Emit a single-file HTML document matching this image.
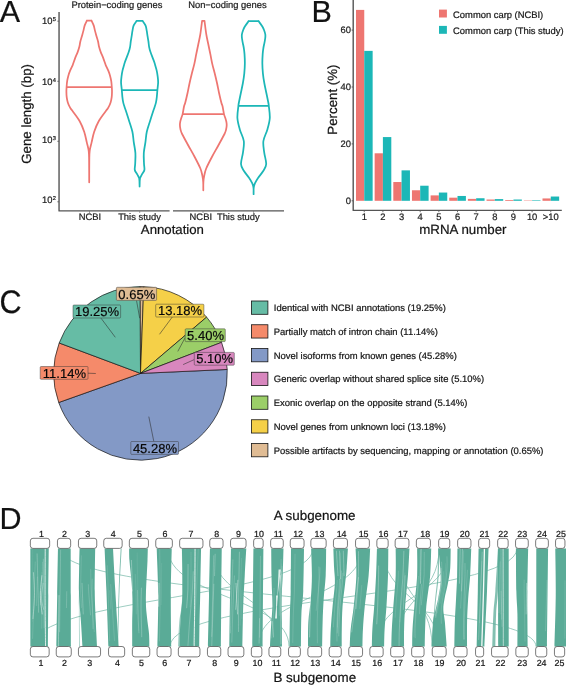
<!DOCTYPE html>
<html lang="en"><head><meta charset="utf-8"><title>Figure</title>
<style>
html,body{margin:0;padding:0;background:#fff;}
body{width:566px;height:685px;overflow:hidden;}
svg{display:block;font-family:"Liberation Sans", Arial, sans-serif;text-rendering:geometricPrecision;}
text{stroke:#222;stroke-width:0.22px;}
</style></head><body>
<svg width="566" height="685" viewBox="0 0 566 685">
<rect width="566" height="685" fill="#fff"/>
<g id="panelA">
<path d="M86.90 20.70 C86.52 21.52 85.23 23.90 84.64 25.60 C84.05 27.30 83.83 29.13 83.37 30.90 C82.91 32.67 82.40 34.43 81.90 36.20 C81.40 37.97 80.78 39.73 80.35 41.50 C79.92 43.27 79.79 45.03 79.34 46.80 C78.89 48.57 78.31 50.33 77.65 52.10 C76.99 53.87 76.09 55.63 75.40 57.40 C74.71 59.17 73.97 61.38 73.50 62.70 C73.03 64.02 73.17 63.98 72.60 65.30 C72.03 66.62 70.82 68.83 70.10 70.60 C69.38 72.37 68.79 74.13 68.30 75.90 C67.81 77.67 67.43 79.35 67.15 81.20 C66.87 83.05 66.72 85.23 66.60 87.00 C66.47 88.77 66.38 90.12 66.40 91.80 C66.42 93.48 66.47 95.33 66.70 97.10 C66.93 98.87 67.23 100.63 67.80 102.40 C68.37 104.17 69.37 106.33 70.10 107.70 C70.83 109.07 70.60 108.35 72.20 110.60 C73.80 112.85 77.70 117.67 79.70 121.20 C81.70 124.73 83.02 128.27 84.20 131.80 C85.38 135.33 86.05 139.22 86.80 142.40 C87.55 145.58 88.32 147.97 88.70 150.90 C89.08 153.83 89.02 154.77 89.10 160.00 C89.18 165.23 89.18 178.58 89.20 182.30 M91.50 20.70 C91.88 21.52 93.17 23.90 93.76 25.60 C94.35 27.30 94.57 29.13 95.03 30.90 C95.49 32.67 96.00 34.43 96.50 36.20 C97.00 37.97 97.62 39.73 98.05 41.50 C98.48 43.27 98.61 45.03 99.06 46.80 C99.51 48.57 100.09 50.33 100.75 52.10 C101.41 53.87 102.31 55.63 103.00 57.40 C103.69 59.17 104.43 61.38 104.90 62.70 C105.37 64.02 105.23 63.98 105.80 65.30 C106.37 66.62 107.58 68.83 108.30 70.60 C109.02 72.37 109.61 74.13 110.10 75.90 C110.59 77.67 110.97 79.35 111.25 81.20 C111.53 83.05 111.68 85.23 111.80 87.00 C111.93 88.77 112.02 90.12 112.00 91.80 C111.98 93.48 111.93 95.33 111.70 97.10 C111.47 98.87 111.17 100.63 110.60 102.40 C110.03 104.17 109.03 106.33 108.30 107.70 C107.57 109.07 107.80 108.35 106.20 110.60 C104.60 112.85 100.70 117.67 98.70 121.20 C96.70 124.73 95.38 128.27 94.20 131.80 C93.02 135.33 92.35 139.22 91.60 142.40 C90.85 145.58 90.08 147.97 89.70 150.90 C89.32 153.83 89.38 154.77 89.30 160.00 C89.22 165.23 89.22 178.58 89.20 182.30 M86.90 20.70 L91.50 20.70" fill="none" stroke="#EE7671" stroke-width="1.75" stroke-linejoin="round" stroke-linecap="round"/>
<line x1="66.60" y1="87.00" x2="111.80" y2="87.00" stroke="#EE7671" stroke-width="1.75"/>
<path d="M136.70 20.80 C136.18 21.60 134.31 23.92 133.60 25.60 C132.89 27.28 132.77 29.13 132.45 30.90 C132.12 32.67 131.93 34.43 131.65 36.20 C131.37 37.97 131.01 39.73 130.75 41.50 C130.49 43.27 130.44 45.03 130.10 46.80 C129.76 48.57 129.27 50.33 128.70 52.10 C128.13 53.87 127.37 55.63 126.70 57.40 C126.03 59.17 125.15 61.38 124.70 62.70 C124.25 64.02 124.37 63.98 124.00 65.30 C123.63 66.62 122.90 68.83 122.50 70.60 C122.10 72.37 121.84 73.95 121.60 75.90 C121.36 77.85 121.02 79.95 121.05 82.30 C121.08 84.65 121.58 87.53 121.80 90.00 C122.02 92.47 122.17 95.03 122.40 97.10 C122.63 99.17 122.80 100.63 123.20 102.40 C123.60 104.17 124.37 106.33 124.80 107.70 C125.23 109.07 125.07 108.35 125.80 110.60 C126.53 112.85 128.10 117.67 129.20 121.20 C130.30 124.73 131.63 128.27 132.40 131.80 C133.17 135.33 133.30 138.87 133.80 142.40 C134.30 145.93 135.17 149.47 135.40 153.00 C135.63 156.53 135.30 160.77 135.20 163.60 C135.10 166.43 134.48 168.23 134.80 170.00 C135.12 171.77 136.37 172.80 137.10 174.20 C137.83 175.60 138.78 176.35 139.20 178.40 C139.62 180.45 139.53 185.15 139.60 186.50 M142.50 20.80 C143.02 21.60 144.89 23.92 145.60 25.60 C146.31 27.28 146.43 29.13 146.75 30.90 C147.07 32.67 147.27 34.43 147.55 36.20 C147.83 37.97 148.19 39.73 148.45 41.50 C148.71 43.27 148.76 45.03 149.10 46.80 C149.44 48.57 149.93 50.33 150.50 52.10 C151.07 53.87 151.83 55.63 152.50 57.40 C153.17 59.17 154.05 61.38 154.50 62.70 C154.95 64.02 154.83 63.98 155.20 65.30 C155.57 66.62 156.30 68.83 156.70 70.60 C157.10 72.37 157.36 73.95 157.60 75.90 C157.84 77.85 158.18 79.95 158.15 82.30 C158.12 84.65 157.62 87.53 157.40 90.00 C157.18 92.47 157.03 95.03 156.80 97.10 C156.57 99.17 156.40 100.63 156.00 102.40 C155.60 104.17 154.83 106.33 154.40 107.70 C153.97 109.07 154.13 108.35 153.40 110.60 C152.67 112.85 151.10 117.67 150.00 121.20 C148.90 124.73 147.57 128.27 146.80 131.80 C146.03 135.33 145.90 138.87 145.40 142.40 C144.90 145.93 144.03 149.47 143.80 153.00 C143.57 156.53 143.90 160.77 144.00 163.60 C144.10 166.43 144.72 168.23 144.40 170.00 C144.08 171.77 142.83 172.80 142.10 174.20 C141.37 175.60 140.42 176.35 140.00 178.40 C139.58 180.45 139.67 185.15 139.60 186.50 M136.70 20.80 L142.50 20.80" fill="none" stroke="#1CB7B7" stroke-width="1.75" stroke-linejoin="round" stroke-linecap="round"/>
<line x1="121.80" y1="90.00" x2="157.40" y2="90.00" stroke="#1CB7B7" stroke-width="1.75"/>
<path d="M202.10 20.80 C201.80 23.07 200.93 30.50 200.30 34.40 C199.67 38.30 198.97 40.95 198.30 44.20 C197.63 47.45 196.95 50.67 196.30 53.90 C195.65 57.13 195.13 60.37 194.40 63.60 C193.67 66.83 192.70 70.07 191.90 73.30 C191.10 76.53 190.32 79.77 189.60 83.00 C188.88 86.23 188.32 89.45 187.60 92.70 C186.88 95.95 185.90 100.20 185.30 102.50 C184.70 104.80 184.45 104.57 184.00 106.50 C183.55 108.43 183.05 112.18 182.60 114.10 C182.15 116.02 181.68 116.77 181.30 118.00 C180.92 119.23 180.53 120.35 180.30 121.50 C180.07 122.65 179.87 123.57 179.90 124.90 C179.93 126.23 180.13 127.98 180.50 129.50 C180.87 131.02 180.80 131.33 182.10 134.00 C183.40 136.67 186.20 141.67 188.30 145.50 C190.40 149.33 192.68 153.17 194.70 157.00 C196.72 160.83 199.13 165.43 200.40 168.50 C201.67 171.57 201.83 173.15 202.30 175.40 C202.77 177.65 203.03 179.52 203.20 182.00 C203.37 184.48 203.28 188.92 203.30 190.30 M204.50 20.80 C204.80 23.07 205.67 30.50 206.30 34.40 C206.93 38.30 207.63 40.95 208.30 44.20 C208.97 47.45 209.65 50.67 210.30 53.90 C210.95 57.13 211.47 60.37 212.20 63.60 C212.93 66.83 213.90 70.07 214.70 73.30 C215.50 76.53 216.28 79.77 217.00 83.00 C217.72 86.23 218.28 89.45 219.00 92.70 C219.72 95.95 220.70 100.20 221.30 102.50 C221.90 104.80 222.15 104.57 222.60 106.50 C223.05 108.43 223.55 112.18 224.00 114.10 C224.45 116.02 224.92 116.77 225.30 118.00 C225.68 119.23 226.07 120.35 226.30 121.50 C226.53 122.65 226.73 123.57 226.70 124.90 C226.67 126.23 226.47 127.98 226.10 129.50 C225.73 131.02 225.80 131.33 224.50 134.00 C223.20 136.67 220.40 141.67 218.30 145.50 C216.20 149.33 213.92 153.17 211.90 157.00 C209.88 160.83 207.47 165.43 206.20 168.50 C204.93 171.57 204.77 173.15 204.30 175.40 C203.83 177.65 203.57 179.52 203.40 182.00 C203.23 184.48 203.32 188.92 203.30 190.30 M202.10 20.80 L204.50 20.80" fill="none" stroke="#EE7671" stroke-width="1.75" stroke-linejoin="round" stroke-linecap="round"/>
<line x1="182.60" y1="114.10" x2="224.00" y2="114.10" stroke="#EE7671" stroke-width="1.75"/>
<path d="M248.70 21.10 C248.03 22.03 245.65 25.13 244.70 26.70 C243.75 28.27 243.47 29.22 243.00 30.50 C242.53 31.78 242.08 33.23 241.90 34.40 C241.72 35.57 241.83 36.52 241.90 37.50 C241.97 38.48 242.12 39.22 242.30 40.30 C242.48 41.38 242.75 42.72 243.00 44.00 C243.25 45.28 243.55 46.35 243.80 48.00 C244.05 49.65 244.32 51.30 244.50 53.90 C244.68 56.50 244.88 60.37 244.85 63.60 C244.82 66.83 244.62 70.07 244.30 73.30 C243.97 76.53 243.47 79.77 242.90 83.00 C242.33 86.23 241.57 89.45 240.90 92.70 C240.23 95.95 239.32 100.30 238.90 102.50 C238.48 104.70 238.65 103.32 238.40 105.90 C238.15 108.48 237.17 114.07 237.40 118.00 C237.63 121.93 238.73 125.67 239.80 129.50 C240.87 133.33 243.27 137.18 243.80 141.00 C244.33 144.82 243.47 148.57 243.00 152.40 C242.53 156.23 240.87 160.93 241.00 164.00 C241.13 167.07 242.47 168.52 243.80 170.80 C245.13 173.08 247.58 175.60 249.00 177.70 C250.42 179.80 251.55 181.68 252.30 183.40 C253.05 185.12 253.28 186.20 253.50 188.00 C253.72 189.80 253.58 193.17 253.60 194.20 M258.50 21.10 C259.17 22.03 261.55 25.13 262.50 26.70 C263.45 28.27 263.73 29.22 264.20 30.50 C264.67 31.78 265.12 33.23 265.30 34.40 C265.48 35.57 265.37 36.52 265.30 37.50 C265.23 38.48 265.08 39.22 264.90 40.30 C264.72 41.38 264.45 42.72 264.20 44.00 C263.95 45.28 263.65 46.35 263.40 48.00 C263.15 49.65 262.88 51.30 262.70 53.90 C262.52 56.50 262.32 60.37 262.35 63.60 C262.38 66.83 262.57 70.07 262.90 73.30 C263.22 76.53 263.73 79.77 264.30 83.00 C264.87 86.23 265.63 89.45 266.30 92.70 C266.97 95.95 267.88 100.30 268.30 102.50 C268.72 104.70 268.55 103.32 268.80 105.90 C269.05 108.48 270.03 114.07 269.80 118.00 C269.57 121.93 268.47 125.67 267.40 129.50 C266.33 133.33 263.93 137.18 263.40 141.00 C262.87 144.82 263.73 148.57 264.20 152.40 C264.67 156.23 266.33 160.93 266.20 164.00 C266.07 167.07 264.73 168.52 263.40 170.80 C262.07 173.08 259.62 175.60 258.20 177.70 C256.78 179.80 255.65 181.68 254.90 183.40 C254.15 185.12 253.92 186.20 253.70 188.00 C253.48 189.80 253.62 193.17 253.60 194.20 M248.70 21.10 L258.50 21.10" fill="none" stroke="#1CB7B7" stroke-width="1.75" stroke-linejoin="round" stroke-linecap="round"/>
<line x1="238.40" y1="105.90" x2="268.80" y2="105.90" stroke="#1CB7B7" stroke-width="1.75"/>
<path d="M59.05 12 V210.9 H169.6 M173 210.9 H284" fill="none" stroke="#555" stroke-width="1.4" stroke-linejoin="round"/>
<line x1="57.4" x2="58.6" y1="21.20" y2="21.20" stroke="#222" stroke-width="0.7"/>
<text x="52.4" y="23.90" font-size="9.4" text-anchor="end" fill="#222">10</text>
<text x="52.8" y="21.10" font-size="5.7" fill="#222">5</text>
<line x1="57.4" x2="58.6" y1="81.30" y2="81.30" stroke="#222" stroke-width="0.7"/>
<text x="52.4" y="84.90" font-size="9.4" text-anchor="end" fill="#222">10</text>
<text x="52.8" y="82.10" font-size="5.7" fill="#222">4</text>
<line x1="57.4" x2="58.6" y1="141.30" y2="141.30" stroke="#222" stroke-width="0.7"/>
<text x="52.4" y="143.00" font-size="9.4" text-anchor="end" fill="#222">10</text>
<text x="52.8" y="140.20" font-size="5.7" fill="#222">3</text>
<line x1="57.4" x2="58.6" y1="201.80" y2="201.80" stroke="#222" stroke-width="0.7"/>
<text x="52.4" y="202.70" font-size="9.4" text-anchor="end" fill="#222">10</text>
<text x="52.8" y="199.90" font-size="5.7" fill="#222">2</text>
<line x1="89.50" x2="89.50" y1="211.6" y2="212.6" stroke="#222" stroke-width="0.7"/>
<line x1="139.70" x2="139.70" y1="211.6" y2="212.6" stroke="#222" stroke-width="0.7"/>
<line x1="203.00" x2="203.00" y1="211.6" y2="212.6" stroke="#222" stroke-width="0.7"/>
<line x1="253.60" x2="253.60" y1="211.6" y2="212.6" stroke="#222" stroke-width="0.7"/>
<text x="90.00" y="220" font-size="9.4" text-anchor="middle" fill="#222">NCBI</text>
<text x="139.50" y="220" font-size="9.4" text-anchor="middle" fill="#222">This study</text>
<text x="200.80" y="220" font-size="9.4" text-anchor="middle" fill="#222">NCBI</text>
<text x="238.30" y="220" font-size="9.4" text-anchor="middle" fill="#222">This study</text>
<text x="116.9" y="8.4" font-size="9.4" text-anchor="middle" fill="#222">Protein−coding genes</text>
<text x="227.4" y="8.4" font-size="9.4" text-anchor="middle" fill="#222">Non−coding genes</text>
<text x="172.4" y="233.8" font-size="13.2" text-anchor="middle" fill="#111">Annotation</text>
<text transform="translate(31.3 113.9) rotate(-90)" font-size="13.3" text-anchor="middle" fill="#111">Gene length (bp)</text>
<text x="-0.25" y="22.2" font-size="30.5" fill="#111">A</text>
</g>
<g id="panelB">
<rect x="356.00" y="9.90" width="8.25" height="190.90" fill="#EE7671"/>
<rect x="364.25" y="50.87" width="8.40" height="149.93" fill="#1CB7B7"/>
<rect x="374.65" y="153.29" width="8.25" height="47.51" fill="#EE7671"/>
<rect x="382.90" y="137.07" width="8.40" height="63.73" fill="#1CB7B7"/>
<rect x="393.30" y="182.02" width="8.25" height="18.78" fill="#EE7671"/>
<rect x="401.55" y="170.36" width="8.40" height="30.44" fill="#1CB7B7"/>
<rect x="411.95" y="190.27" width="8.25" height="10.53" fill="#EE7671"/>
<rect x="420.20" y="185.72" width="8.40" height="15.08" fill="#1CB7B7"/>
<rect x="430.60" y="195.39" width="8.25" height="5.41" fill="#EE7671"/>
<rect x="438.85" y="192.55" width="8.40" height="8.25" fill="#1CB7B7"/>
<rect x="449.25" y="197.67" width="8.25" height="3.13" fill="#EE7671"/>
<rect x="457.50" y="195.96" width="8.40" height="4.84" fill="#1CB7B7"/>
<rect x="467.90" y="198.89" width="8.25" height="1.91" fill="#EE7671"/>
<rect x="476.15" y="198.24" width="8.40" height="2.56" fill="#1CB7B7"/>
<rect x="486.55" y="199.52" width="8.25" height="1.28" fill="#EE7671"/>
<rect x="494.80" y="199.09" width="8.40" height="1.71" fill="#1CB7B7"/>
<rect x="505.20" y="200.00" width="8.25" height="0.80" fill="#EE7671"/>
<rect x="513.45" y="199.52" width="8.40" height="1.28" fill="#1CB7B7"/>
<rect x="523.85" y="200.43" width="8.25" height="0.37" fill="#EE7671"/>
<rect x="532.10" y="200.23" width="8.40" height="0.57" fill="#1CB7B7"/>
<rect x="542.50" y="198.44" width="8.25" height="2.36" fill="#EE7671"/>
<rect x="550.75" y="196.53" width="8.40" height="4.27" fill="#1CB7B7"/>
<path d="M353.2 0 V210.4 H561.8" fill="none" stroke="#555" stroke-width="1.4" stroke-linejoin="round"/>
<line x1="351.6" x2="352.8" y1="200.80" y2="200.80" stroke="#222" stroke-width="0.7"/>
<text x="351" y="204.10" font-size="9.4" text-anchor="end" fill="#222">0</text>
<line x1="351.6" x2="352.8" y1="143.90" y2="143.90" stroke="#222" stroke-width="0.7"/>
<text x="351" y="147.20" font-size="9.4" text-anchor="end" fill="#222">20</text>
<line x1="351.6" x2="352.8" y1="87.00" y2="87.00" stroke="#222" stroke-width="0.7"/>
<text x="351" y="90.30" font-size="9.4" text-anchor="end" fill="#222">40</text>
<line x1="351.6" x2="352.8" y1="30.10" y2="30.10" stroke="#222" stroke-width="0.7"/>
<text x="351" y="33.40" font-size="9.4" text-anchor="end" fill="#222">60</text>
<line x1="364.25" x2="364.25" y1="211.1" y2="212.2" stroke="#222" stroke-width="0.7"/>
<text x="364.25" y="219.9" font-size="9.4" text-anchor="middle" fill="#222">1</text>
<line x1="382.90" x2="382.90" y1="211.1" y2="212.2" stroke="#222" stroke-width="0.7"/>
<text x="382.90" y="219.9" font-size="9.4" text-anchor="middle" fill="#222">2</text>
<line x1="401.55" x2="401.55" y1="211.1" y2="212.2" stroke="#222" stroke-width="0.7"/>
<text x="401.55" y="219.9" font-size="9.4" text-anchor="middle" fill="#222">3</text>
<line x1="420.20" x2="420.20" y1="211.1" y2="212.2" stroke="#222" stroke-width="0.7"/>
<text x="420.20" y="219.9" font-size="9.4" text-anchor="middle" fill="#222">4</text>
<line x1="438.85" x2="438.85" y1="211.1" y2="212.2" stroke="#222" stroke-width="0.7"/>
<text x="438.85" y="219.9" font-size="9.4" text-anchor="middle" fill="#222">5</text>
<line x1="457.50" x2="457.50" y1="211.1" y2="212.2" stroke="#222" stroke-width="0.7"/>
<text x="457.50" y="219.9" font-size="9.4" text-anchor="middle" fill="#222">6</text>
<line x1="476.15" x2="476.15" y1="211.1" y2="212.2" stroke="#222" stroke-width="0.7"/>
<text x="476.15" y="219.9" font-size="9.4" text-anchor="middle" fill="#222">7</text>
<line x1="494.80" x2="494.80" y1="211.1" y2="212.2" stroke="#222" stroke-width="0.7"/>
<text x="494.80" y="219.9" font-size="9.4" text-anchor="middle" fill="#222">8</text>
<line x1="513.45" x2="513.45" y1="211.1" y2="212.2" stroke="#222" stroke-width="0.7"/>
<text x="513.45" y="219.9" font-size="9.4" text-anchor="middle" fill="#222">9</text>
<line x1="532.10" x2="532.10" y1="211.1" y2="212.2" stroke="#222" stroke-width="0.7"/>
<text x="532.10" y="219.9" font-size="9.4" text-anchor="middle" fill="#222">10</text>
<line x1="550.75" x2="550.75" y1="211.1" y2="212.2" stroke="#222" stroke-width="0.7"/>
<text x="550.75" y="219.9" font-size="9.4" text-anchor="middle" fill="#222">&gt;10</text>
<text x="462.9" y="233.8" font-size="13.3" text-anchor="middle" fill="#111">mRNA number</text>
<text transform="translate(336.8 99.6) rotate(-90)" font-size="13.3" text-anchor="middle" fill="#111">Percent (%)</text>
<rect x="439" y="9.6" width="7.9" height="7.9" fill="#EE7671"/>
<rect x="439" y="25.9" width="7.9" height="7.9" fill="#1CB7B7"/>
<text x="453.1" y="17.6" font-size="9.4" fill="#111">Common carp (NCBI)</text>
<text x="453.1" y="33.8" font-size="9.4" fill="#111">Common carp (This study)</text>
<text x="311.6" y="22.2" font-size="30.5" fill="#111">B</text>
</g>
<g id="panelC">
<path d="M140.50 373.40 L227.21 369.46 A86.80 86.80 0 0 1 58.73 402.51 Z" fill="#8399C6" stroke="#141414" stroke-width="0.7" stroke-linejoin="round"/>
<path d="M140.50 373.40 L58.73 402.51 A86.80 86.80 0 0 1 59.20 342.98 Z" fill="#F58A6A" stroke="#141414" stroke-width="0.7" stroke-linejoin="round"/>
<path d="M140.50 373.40 L59.20 342.98 A86.80 86.80 0 0 1 140.22 286.60 Z" fill="#66BCA5" stroke="#141414" stroke-width="0.7" stroke-linejoin="round"/>
<path d="M140.50 373.40 L140.22 286.60 A86.80 86.80 0 0 1 143.76 286.66 Z" fill="#E0BC94" stroke="#141414" stroke-width="0.7" stroke-linejoin="round"/>
<path d="M140.50 373.40 L143.76 286.66 A86.80 86.80 0 0 1 206.60 317.14 Z" fill="#F5D048" stroke="#141414" stroke-width="0.7" stroke-linejoin="round"/>
<path d="M140.50 373.40 L206.60 317.14 A86.80 86.80 0 0 1 221.56 342.35 Z" fill="#9BCE68" stroke="#141414" stroke-width="0.7" stroke-linejoin="round"/>
<path d="M140.50 373.40 L221.56 342.35 A86.80 86.80 0 0 1 227.21 369.46 Z" fill="#D887BE" stroke="#141414" stroke-width="0.7" stroke-linejoin="round"/>
<line x1="101.00" y1="318.20" x2="115.30" y2="337.30" stroke="#2a2a2a" stroke-width="0.55"/>
<line x1="172.30" y1="317.00" x2="159.50" y2="334.30" stroke="#2a2a2a" stroke-width="0.55"/>
<line x1="185.30" y1="337.40" x2="177.80" y2="351.40" stroke="#2a2a2a" stroke-width="0.55"/>
<line x1="194.20" y1="359.60" x2="183.10" y2="364.60" stroke="#2a2a2a" stroke-width="0.55"/>
<line x1="88.00" y1="373.20" x2="95.80" y2="373.50" stroke="#2a2a2a" stroke-width="0.55"/>
<line x1="153.80" y1="441.40" x2="148.80" y2="416.60" stroke="#2a2a2a" stroke-width="0.55"/>
<line x1="136.50" y1="300.40" x2="139.70" y2="318.20" stroke="#2a2a2a" stroke-width="0.55"/>
<rect x="116.40" y="287.30" width="40.20" height="13.10" rx="0.9" fill="#E0BC94" stroke="#333" stroke-width="0.45"/>
<text x="136.80" y="298.50" font-size="13" text-anchor="middle" fill="#000" stroke-width="0.08">0.65%</text>
<rect x="73.00" y="305.00" width="47.60" height="13.00" rx="0.9" fill="#66BCA5" stroke="#333" stroke-width="0.45"/>
<text x="97.10" y="316.15" font-size="13" text-anchor="middle" fill="#000" stroke-width="0.08">19.25%</text>
<rect x="40.20" y="366.50" width="47.80" height="12.80" rx="0.9" fill="#F58A6A" stroke="#333" stroke-width="0.45"/>
<text x="64.40" y="377.55" font-size="13" text-anchor="middle" fill="#000" stroke-width="0.08">11.14%</text>
<rect x="155.70" y="304.20" width="48.20" height="12.80" rx="0.9" fill="#F5D048" stroke="#333" stroke-width="0.45"/>
<text x="180.10" y="315.25" font-size="13" text-anchor="middle" fill="#000" stroke-width="0.08">13.18%</text>
<rect x="185.20" y="328.80" width="40.10" height="12.80" rx="0.9" fill="#9BCE68" stroke="#333" stroke-width="0.45"/>
<text x="205.55" y="339.85" font-size="13" text-anchor="middle" fill="#000" stroke-width="0.08">5.40%</text>
<rect x="194.30" y="352.40" width="40.00" height="12.80" rx="0.9" fill="#D887BE" stroke="#333" stroke-width="0.45"/>
<text x="214.60" y="363.45" font-size="13" text-anchor="middle" fill="#000" stroke-width="0.08">5.10%</text>
<rect x="130.80" y="441.50" width="47.70" height="12.90" rx="0.9" fill="#8399C6" stroke="#333" stroke-width="0.45"/>
<text x="154.95" y="452.60" font-size="13" text-anchor="middle" fill="#000" stroke-width="0.08">45.28%</text>
<rect x="251.4" y="301.00" width="16.5" height="13.3" fill="#66BCA5" stroke="#151515" stroke-width="0.8"/>
<text x="273.8" y="311.10" font-size="9.45" fill="#111">Identical with NCBI annotations (19.25%)</text>
<rect x="251.4" y="324.75" width="16.5" height="13.3" fill="#F58A6A" stroke="#151515" stroke-width="0.8"/>
<text x="273.8" y="334.85" font-size="9.45" fill="#111">Partially match of intron chain (11.14%)</text>
<rect x="251.4" y="348.50" width="16.5" height="13.3" fill="#8399C6" stroke="#151515" stroke-width="0.8"/>
<text x="273.8" y="358.60" font-size="9.45" fill="#111">Novel isoforms from known genes (45.28%)</text>
<rect x="251.4" y="372.25" width="16.5" height="13.3" fill="#D887BE" stroke="#151515" stroke-width="0.8"/>
<text x="273.8" y="382.35" font-size="9.45" fill="#111">Generic overlap without shared splice site (5.10%)</text>
<rect x="251.4" y="396.00" width="16.5" height="13.3" fill="#9BCE68" stroke="#151515" stroke-width="0.8"/>
<text x="273.8" y="406.10" font-size="9.45" fill="#111">Exonic overlap on the opposite strand (5.14%)</text>
<rect x="251.4" y="419.75" width="16.5" height="13.3" fill="#F5D048" stroke="#151515" stroke-width="0.8"/>
<text x="273.8" y="429.85" font-size="9.45" fill="#111">Novel genes from unknown loci (13.18%)</text>
<rect x="251.4" y="443.50" width="16.5" height="13.3" fill="#E0BC94" stroke="#151515" stroke-width="0.8"/>
<text x="273.8" y="453.60" font-size="9.45" fill="#111">Possible artifacts by sequencing, mapping or annotation (0.65%)</text>
<text transform="translate(-0.4 312.6) scale(1 1.064)" font-size="30.5" fill="#111">C</text>
</g>
<g id="panelD">
<g fill="none" stroke="#5AAB97" stroke-width="0.7" opacity="0.85">
<path d="M60.0 548.4 C60.0 597.5 536.0 597.5 536.0 646.5"/>
<path d="M313.0 548.4 C313.0 597.5 32.0 597.5 32.0 646.5"/>
<path d="M168.0 548.4 C168.0 597.5 289.0 597.5 289.0 646.5"/>
<path d="M517.0 548.4 C517.0 597.5 170.0 597.5 170.0 646.5"/>
<path d="M362.0 548.4 C362.0 597.5 258.0 597.5 258.0 646.5"/>
<path d="M212.0 548.4 C212.0 597.5 280.0 597.5 280.0 646.5"/>
<path d="M439.0 548.4 C439.0 597.5 395.0 597.5 395.0 646.5"/>
<path d="M397.0 548.4 C397.0 597.5 432.0 597.5 432.0 646.5"/>
<path d="M383.0 548.4 C383.0 597.5 438.0 597.5 438.0 646.5"/>
<path d="M449.0 548.4 C449.0 597.5 376.0 597.5 376.0 646.5"/>
</g>
<g fill="#5AAB97">
<path d="M30.36 548.40 C30.36 556.26 30.36 579.24 30.36 595.58 C30.36 611.93 30.36 637.99 30.36 646.47 L47.99 646.47 C48.04 637.99 48.17 611.93 48.30 595.58 C48.43 579.24 48.68 556.26 48.76 548.40 Z"/>
<path d="M57.96 548.40 C57.83 556.26 57.44 579.24 57.19 595.58 C56.93 611.93 56.55 637.99 56.42 646.47 L70.98 646.47 C70.96 637.99 70.88 611.93 70.83 595.58 C70.78 579.24 70.70 556.26 70.68 548.40 Z"/>
<path d="M79.87 548.40 C79.72 555.50 78.78 578.78 78.95 590.98 C79.13 603.19 80.36 612.39 80.95 621.64 C81.53 630.89 82.22 642.33 82.48 646.47 L97.04 646.47 C96.84 642.33 96.20 630.89 95.82 621.64 C95.43 612.39 94.84 603.19 94.74 590.98 C94.64 578.78 95.13 555.50 95.20 548.40 Z"/>
<path d="M104.60 548.40 C104.90 555.50 105.80 574.64 106.44 590.98 C107.08 607.33 108.10 637.22 108.43 646.47 L118.70 646.47 C118.14 637.22 116.27 607.33 115.33 590.98 C114.38 574.64 113.41 555.50 113.03 548.40 Z"/>
<path d="M129.12 548.40 C129.17 550.39 129.12 555.79 129.43 560.33 C129.74 564.87 130.50 570.55 130.96 575.66 C131.42 580.77 131.93 585.87 132.19 590.98 C132.44 596.09 132.50 601.20 132.50 606.31 C132.50 611.42 132.24 617.04 132.19 621.64 C132.14 626.24 132.19 629.76 132.19 633.90 C132.19 638.04 132.19 644.38 132.19 646.47 L149.36 646.47 C149.31 644.38 149.36 638.04 149.05 633.90 C148.74 629.76 148.03 626.24 147.52 621.64 C147.01 617.04 146.24 611.42 145.98 606.31 C145.73 601.20 145.86 596.09 145.98 590.98 C146.11 585.87 146.49 580.77 146.75 575.66 C147.01 570.55 147.34 564.87 147.52 560.33 C147.70 555.79 147.77 550.39 147.82 548.40 Z"/>
<path d="M156.71 548.40 C156.97 556.26 158.12 579.24 158.25 595.58 C158.37 611.93 157.61 637.99 157.48 646.47 L171.28 646.47 C171.20 637.99 170.74 611.93 170.82 595.58 C170.89 579.24 171.58 556.26 171.74 548.40 Z"/>
<path d="M181.90 548.40 C182.03 555.50 182.92 578.78 182.66 590.98 C182.41 603.19 180.88 612.39 180.36 621.64 C179.85 630.89 179.73 642.33 179.60 646.47 L199.22 646.47 C199.27 642.33 199.35 630.89 199.52 621.64 C199.70 612.39 200.04 603.19 200.29 590.98 C200.55 578.78 200.93 555.50 201.06 548.40 Z"/>
<path d="M209.95 548.40 C209.79 556.26 209.36 579.24 209.03 595.58 C208.70 611.93 208.13 637.99 207.96 646.47 L220.98 646.47 C221.04 637.99 221.16 611.93 221.29 595.58 C221.42 579.24 221.67 556.26 221.75 548.40 Z"/>
<path d="M230.95 548.40 C230.87 552.94 230.67 566.00 230.49 575.66 C230.31 585.31 230.05 594.51 229.87 606.31 C229.70 618.11 229.49 639.78 229.41 646.47 L242.44 646.47 C242.57 639.78 242.83 618.11 243.21 606.31 C243.59 594.51 244.23 585.31 244.74 575.66 C245.25 566.00 246.02 552.94 246.28 548.40 Z"/>
<path d="M253.43 548.40 C253.25 564.75 252.54 630.13 252.36 646.47 L262.63 646.47 C262.75 630.13 263.27 564.75 263.39 548.40 Z"/>
<path d="M271.21 548.40 C271.26 552.94 271.39 568.56 271.52 575.66 C271.65 582.75 271.82 585.87 271.98 590.98 C272.13 596.09 272.54 601.20 272.44 606.31 C272.33 611.42 271.70 616.53 271.36 621.64 C271.03 626.75 270.67 632.83 270.44 636.97 C270.21 641.11 270.06 644.89 269.98 646.47 L281.94 646.47 C281.94 644.89 281.94 641.11 281.94 636.97 C281.94 632.83 281.99 626.75 281.94 621.64 C281.89 616.53 281.63 611.42 281.63 606.31 C281.63 601.20 281.76 596.09 281.94 590.98 C282.12 585.87 282.45 582.75 282.71 575.66 C282.96 568.56 283.35 552.94 283.47 548.40 Z"/>
<path d="M290.98 548.40 C290.93 555.50 290.86 580.05 290.68 590.98 C290.50 601.91 290.12 604.73 289.91 613.98 C289.71 623.22 289.53 641.06 289.45 646.47 L300.95 646.47 C301.02 641.06 301.02 623.22 301.41 613.98 C301.79 604.73 302.81 601.91 303.25 590.98 C303.68 580.05 303.89 555.50 304.01 548.40 Z"/>
<path d="M311.13 548.40 C311.26 552.94 311.95 567.28 311.90 575.66 C311.85 584.03 311.41 590.98 310.82 598.65 C310.24 606.31 308.83 613.67 308.37 621.64 C307.91 629.61 308.12 642.33 308.07 646.47 L322.17 646.47 C322.24 642.33 322.37 629.61 322.63 621.64 C322.88 613.67 323.19 606.31 323.70 598.65 C324.21 590.98 325.28 584.03 325.69 575.66 C326.10 567.28 326.08 552.94 326.15 548.40 Z"/>
<path d="M333.36 548.40 C333.48 551.67 333.87 562.17 334.12 567.99 C334.38 573.81 335.15 576.93 334.89 583.32 C334.63 589.71 333.28 598.65 332.59 606.31 C331.90 613.98 331.13 622.61 330.75 629.30 C330.37 636.00 330.37 643.61 330.29 646.47 L341.79 646.47 C341.79 643.61 341.66 636.00 341.79 629.30 C341.91 622.61 341.99 613.98 342.55 606.31 C343.12 598.65 344.47 589.71 345.16 583.32 C345.85 576.93 346.23 573.81 346.69 567.99 C347.15 562.17 347.71 551.67 347.92 548.40 Z"/>
<path d="M355.58 548.40 C355.71 552.94 356.66 566.00 356.35 575.66 C356.04 585.31 354.69 597.37 353.74 606.31 C352.80 615.25 351.34 622.61 350.68 629.30 C350.01 636.00 349.91 643.61 349.76 646.47 L362.48 646.47 C362.56 643.61 362.56 636.00 362.94 629.30 C363.32 622.61 363.83 615.25 364.78 606.31 C365.72 597.37 367.72 585.31 368.61 575.66 C369.51 566.00 369.89 552.94 370.14 548.40 Z"/>
<path d="M376.96 548.40 C376.80 552.94 376.50 566.00 376.04 575.66 C375.58 585.31 374.81 597.37 374.20 606.31 C373.58 615.25 372.74 622.61 372.36 629.30 C371.97 636.00 371.97 643.61 371.90 646.47 L384.16 646.47 C384.24 643.61 384.24 636.00 384.62 629.30 C385.00 622.61 385.90 615.25 386.46 606.31 C387.02 597.37 387.69 585.31 387.99 575.66 C388.30 566.00 388.25 552.94 388.30 548.40 Z"/>
<path d="M395.66 548.40 C395.66 552.94 396.04 566.00 395.66 575.66 C395.27 585.31 394.00 597.37 393.36 606.31 C392.72 615.25 392.16 622.61 391.82 629.30 C391.49 636.00 391.44 643.61 391.36 646.47 L404.09 646.47 C404.09 643.61 403.91 636.00 404.09 629.30 C404.27 622.61 404.52 615.25 405.16 606.31 C405.80 597.37 407.20 585.31 407.92 575.66 C408.63 566.00 409.20 552.94 409.45 548.40 Z"/>
<path d="M417.12 548.40 C417.12 552.94 417.58 566.00 417.12 575.66 C416.66 585.31 415.12 597.37 414.36 606.31 C413.59 615.25 412.87 622.61 412.52 629.30 C412.16 636.00 412.26 643.61 412.21 646.47 L424.78 646.47 C424.83 643.61 424.83 636.00 425.09 629.30 C425.34 622.61 425.47 615.25 426.31 606.31 C427.16 597.37 429.33 585.31 430.14 575.66 C430.96 566.00 431.04 552.94 431.22 548.40 Z"/>
<path d="M438.42 548.40 C438.73 551.67 439.90 562.17 440.26 567.99 C440.62 573.81 440.93 578.21 440.57 583.32 C440.21 588.43 438.93 594.31 438.12 598.65 C437.30 602.99 436.51 605.55 435.66 609.38 C434.82 613.21 433.70 615.46 433.06 621.64 C432.42 627.82 432.04 642.33 431.83 646.47 L446.70 646.47 C446.39 642.33 445.42 627.82 444.86 621.64 C444.30 615.46 443.38 613.21 443.33 609.38 C443.28 605.55 443.79 602.99 444.55 598.65 C445.32 594.31 446.98 588.43 447.93 583.32 C448.87 578.21 449.77 573.81 450.23 567.99 C450.69 562.17 450.61 551.67 450.69 548.40 Z"/>
<path d="M457.43 548.40 C457.38 552.94 457.35 567.28 457.12 575.66 C456.89 584.03 456.43 590.98 456.05 598.65 C455.67 606.31 455.11 613.67 454.82 621.64 C454.54 629.61 454.44 642.33 454.36 646.47 L467.09 646.47 C467.09 642.33 466.91 629.61 467.09 621.64 C467.27 613.67 467.65 606.31 468.16 598.65 C468.67 590.98 469.64 584.03 470.15 575.66 C470.66 567.28 471.05 552.94 471.23 548.40 Z"/>
<path d="M478.58 548.40 C478.45 555.50 478.12 574.64 477.82 590.98 C477.51 607.33 476.92 637.22 476.74 646.47 L484.41 646.47 C484.84 637.22 486.32 607.33 487.01 590.98 C487.70 574.64 488.29 555.50 488.55 548.40 Z"/>
<path d="M497.96 548.40 C498.01 564.75 498.21 630.13 498.26 646.47 L508.69 646.47 C508.69 630.13 508.69 564.75 508.69 548.40 Z"/>
<path d="M515.89 548.40 C515.97 555.50 516.09 580.05 516.35 590.98 C516.60 601.91 517.24 604.73 517.42 613.98 C517.60 623.22 517.42 641.06 517.42 646.47 L527.69 646.47 C527.64 641.06 527.44 623.22 527.39 613.98 C527.33 604.73 527.26 601.91 527.39 590.98 C527.51 580.05 528.02 555.50 528.15 548.40 Z"/>
<path d="M536.28 548.40 C536.28 564.75 536.28 630.13 536.28 646.47 L547.01 646.47 C547.18 630.13 547.90 564.75 548.08 548.40 Z"/>
<path d="M555.28 548.40 C555.36 556.26 555.87 579.24 555.74 595.58 C555.61 611.93 554.72 637.99 554.52 646.47 L566.47 646.47 C566.55 637.99 566.80 611.93 566.93 595.58 C567.06 579.24 567.19 556.26 567.24 548.40 Z"/>
</g>
<g fill="none" stroke="#fff" stroke-linecap="round">
<path d="M37.37 577.14 C37.35 577.81 37.28 579.84 37.23 581.20 C37.18 582.55 37.14 583.90 37.09 585.25 C37.04 586.61 37.00 587.96 36.95 589.31 C36.90 590.67 36.86 592.02 36.81 593.37 C36.76 594.73 36.72 596.08 36.67 597.43 C36.63 598.79 36.59 600.14 36.54 601.49 C36.50 602.85 36.43 604.88 36.41 605.55" stroke-width="0.54" opacity="0.27"/>
<path d="M32.70 550.06 C32.70 551.76 32.69 556.86 32.69 560.26 C32.69 563.66 32.69 567.07 32.69 570.47 C32.68 573.87 32.68 577.27 32.68 580.67 C32.68 584.08 32.68 587.48 32.67 590.88 C32.67 594.28 32.67 597.68 32.67 601.09 C32.67 604.49 32.67 607.89 32.67 611.29 C32.67 614.69 32.67 619.80 32.67 621.50" stroke-width="0.37" opacity="0.20"/>
<path d="M37.09 553.87 C37.13 555.25 37.24 559.42 37.31 562.20 C37.38 564.98 37.45 567.76 37.52 570.54 C37.59 573.31 37.66 576.09 37.73 578.87 C37.80 581.65 37.87 584.43 37.94 587.21 C38.00 589.98 38.07 592.76 38.14 595.54 C38.21 598.32 38.28 601.10 38.36 603.87 C38.43 606.65 38.54 610.82 38.57 612.21" stroke-width="0.57" opacity="0.41"/>
<path d="M40.57 591.50 C40.57 591.80 40.55 592.73 40.54 593.34 C40.53 593.96 40.52 594.57 40.52 595.19 C40.51 595.80 40.50 596.42 40.49 597.03 C40.48 597.65 40.48 598.26 40.47 598.88 C40.46 599.49 40.45 600.11 40.45 600.72 C40.44 601.34 40.43 601.95 40.42 602.57 C40.42 603.18 40.40 604.10 40.40 604.41" stroke-width="0.65" opacity="0.25"/>
<path d="M35.25 562.02 C35.18 563.84 34.98 569.29 34.85 572.93 C34.72 576.56 34.59 580.20 34.46 583.84 C34.32 587.47 34.19 591.11 34.06 594.75 C33.94 598.38 33.81 602.02 33.69 605.66 C33.56 609.29 33.44 612.93 33.31 616.56 C33.19 620.20 33.06 623.84 32.94 627.47 C32.81 631.11 32.63 636.56 32.57 638.38" stroke-width="0.41" opacity="0.32"/>
<path d="M41.84 572.58 C41.83 573.36 41.79 575.68 41.76 577.23 C41.74 578.78 41.71 580.33 41.68 581.88 C41.66 583.43 41.63 584.98 41.60 586.53 C41.57 588.08 41.55 589.63 41.52 591.18 C41.49 592.73 41.47 594.28 41.44 595.83 C41.42 597.38 41.40 598.93 41.37 600.48 C41.35 602.03 41.31 604.35 41.30 605.13" stroke-width="0.37" opacity="0.23"/>
<path d="M42.49 562.27 C42.47 563.84 42.41 568.55 42.37 571.69 C42.33 574.83 42.29 577.97 42.25 581.11 C42.21 584.25 42.16 587.39 42.13 590.53 C42.09 593.67 42.05 596.81 42.02 599.95 C41.98 603.09 41.95 606.23 41.92 609.37 C41.89 612.51 41.86 615.65 41.82 618.79 C41.79 621.92 41.74 626.63 41.73 628.20" stroke-width="0.51" opacity="0.25"/>
<path d="M43.35 559.18 C43.37 560.81 43.42 565.70 43.46 568.97 C43.49 572.23 43.53 575.49 43.56 578.76 C43.59 582.02 43.63 585.29 43.66 588.55 C43.70 591.81 43.73 595.08 43.77 598.34 C43.81 601.60 43.85 604.87 43.90 608.13 C43.94 611.39 43.98 614.66 44.02 617.92 C44.06 621.19 44.12 626.08 44.14 627.71" stroke-width="0.53" opacity="0.39"/>
<path d="M66.73 591.67 C66.72 592.05 66.71 593.18 66.69 593.94 C66.68 594.70 66.67 595.45 66.66 596.21 C66.64 596.97 66.63 597.73 66.62 598.48 C66.60 599.24 66.59 600.00 66.58 600.75 C66.57 601.51 66.55 602.27 66.54 603.02 C66.53 603.78 66.51 604.54 66.50 605.30 C66.49 606.05 66.47 607.19 66.46 607.57" stroke-width="0.50" opacity="0.36"/>
<path d="M60.61 550.13 C60.58 552.08 60.51 557.91 60.46 561.81 C60.41 565.70 60.36 569.59 60.31 573.48 C60.26 577.37 60.21 581.26 60.16 585.15 C60.11 589.05 60.06 592.94 60.01 596.83 C59.96 600.72 59.91 604.61 59.87 608.50 C59.82 612.40 59.77 616.29 59.73 620.18 C59.68 624.07 59.61 629.91 59.59 631.85" stroke-width="0.62" opacity="0.32"/>
<path d="M92.24 579.09 C92.21 580.27 92.10 583.81 92.05 586.17 C92.01 588.52 91.96 590.88 91.98 593.24 C92.00 595.59 92.10 597.95 92.17 600.31 C92.23 602.67 92.29 605.02 92.35 607.38 C92.42 609.74 92.48 612.09 92.55 614.45 C92.61 616.81 92.66 619.16 92.74 621.52 C92.82 623.88 92.97 627.41 93.01 628.59" stroke-width="0.55" opacity="0.29"/>
<path d="M90.69 569.33 C90.72 570.81 90.81 575.27 90.87 578.24 C90.93 581.20 90.95 584.17 91.05 587.14 C91.16 590.11 91.33 593.08 91.52 596.05 C91.71 599.02 91.97 601.99 92.19 604.95 C92.41 607.92 92.62 610.89 92.84 613.86 C93.06 616.83 93.27 619.80 93.50 622.77 C93.74 625.74 94.12 630.19 94.25 631.67" stroke-width="0.37" opacity="0.35"/>
<path d="M88.41 584.68 C88.43 585.40 88.45 587.56 88.51 589.00 C88.56 590.44 88.65 591.88 88.75 593.32 C88.85 594.76 88.99 596.20 89.12 597.64 C89.24 599.08 89.36 600.52 89.48 601.96 C89.60 603.40 89.72 604.84 89.83 606.28 C89.95 607.72 90.07 609.16 90.19 610.60 C90.31 612.04 90.48 614.20 90.54 614.92" stroke-width="0.49" opacity="0.34"/>
<path d="M81.36 555.82 C81.33 557.05 81.24 560.74 81.19 563.21 C81.13 565.67 81.07 568.13 81.01 570.59 C80.96 573.05 80.90 575.52 80.84 577.98 C80.78 580.44 80.70 582.90 80.67 585.36 C80.63 587.83 80.57 590.29 80.64 592.75 C80.71 595.21 80.93 597.68 81.08 600.14 C81.22 602.60 81.44 606.29 81.51 607.52" stroke-width="0.37" opacity="0.36"/>
<path d="M107.31 565.66 C107.37 567.45 107.56 572.82 107.68 576.40 C107.81 579.98 107.94 583.56 108.05 587.13 C108.17 590.71 108.28 594.29 108.39 597.87 C108.50 601.45 108.60 605.03 108.70 608.61 C108.80 612.19 108.91 615.77 109.01 619.35 C109.11 622.93 109.21 626.51 109.31 630.09 C109.40 633.67 109.55 639.03 109.60 640.82" stroke-width="0.38" opacity="0.29"/>
<path d="M110.72 584.57 C110.81 585.90 111.07 589.89 111.25 592.56 C111.42 595.22 111.60 597.88 111.78 600.55 C111.95 603.21 112.13 605.87 112.31 608.54 C112.49 611.20 112.67 613.86 112.85 616.53 C113.04 619.19 113.22 621.85 113.40 624.52 C113.58 627.18 113.77 629.84 113.95 632.51 C114.14 635.17 114.42 639.16 114.51 640.50" stroke-width="0.45" opacity="0.28"/>
<path d="M109.70 590.68 C109.73 591.12 109.81 592.43 109.86 593.30 C109.92 594.17 109.97 595.05 110.03 595.92 C110.08 596.79 110.14 597.67 110.19 598.54 C110.24 599.41 110.30 600.28 110.35 601.16 C110.41 602.03 110.46 602.90 110.52 603.78 C110.57 604.65 110.63 605.52 110.68 606.40 C110.74 607.27 110.82 608.58 110.85 609.02" stroke-width="0.41" opacity="0.24"/>
<path d="M135.27 574.41 C135.32 575.35 135.45 578.17 135.53 580.06 C135.62 581.94 135.70 583.82 135.78 585.71 C135.86 587.59 135.96 589.47 136.01 591.36 C136.06 593.24 136.06 595.12 136.08 597.01 C136.11 598.89 136.14 600.77 136.16 602.65 C136.19 604.54 136.21 606.42 136.23 608.30 C136.26 610.19 136.29 613.01 136.30 613.95" stroke-width="0.35" opacity="0.28"/>
<path d="M137.53 590.47 C137.54 591.48 137.60 594.51 137.63 596.53 C137.67 598.54 137.70 600.56 137.74 602.58 C137.77 604.60 137.82 606.61 137.87 608.63 C137.93 610.65 138.00 612.66 138.06 614.68 C138.13 616.70 138.18 618.72 138.26 620.73 C138.34 622.75 138.46 624.77 138.57 626.79 C138.68 628.80 138.85 631.83 138.91 632.84" stroke-width="0.53" opacity="0.33"/>
<path d="M141.43 588.11 C141.40 589.27 141.29 592.75 141.23 595.06 C141.17 597.38 141.10 599.70 141.07 602.02 C141.04 604.34 141.02 606.65 141.04 608.97 C141.06 611.29 141.15 613.61 141.20 615.93 C141.25 618.24 141.29 620.56 141.36 622.88 C141.43 625.20 141.57 627.51 141.63 629.83 C141.69 632.15 141.69 635.63 141.71 636.79" stroke-width="0.66" opacity="0.37"/>
<path d="M137.21 552.97 C137.22 554.81 137.21 560.34 137.27 564.03 C137.33 567.71 137.50 571.40 137.58 575.08 C137.67 578.77 137.74 582.45 137.79 586.14 C137.85 589.82 137.88 593.51 137.91 597.19 C137.95 600.88 137.95 604.56 138.00 608.25 C138.06 611.93 138.13 615.62 138.24 619.30 C138.34 622.99 138.58 628.51 138.65 630.36" stroke-width="0.37" opacity="0.20"/>
<path d="M161.64 563.41 C161.63 564.39 161.61 567.34 161.60 569.31 C161.59 571.27 161.58 573.24 161.57 575.20 C161.56 577.17 161.55 579.13 161.54 581.10 C161.53 583.06 161.52 585.03 161.52 586.99 C161.51 588.96 161.52 590.92 161.50 592.89 C161.48 594.85 161.45 596.82 161.40 598.78 C161.35 600.75 161.25 603.69 161.22 604.68" stroke-width="0.35" opacity="0.22"/>
<path d="M159.70 549.53 C159.73 551.70 159.81 558.23 159.87 562.59 C159.92 566.94 159.98 571.29 160.04 575.65 C160.11 580.00 160.21 584.35 160.23 588.71 C160.26 593.06 160.26 597.42 160.22 601.77 C160.17 606.12 160.05 610.48 159.96 614.83 C159.87 619.18 159.78 623.54 159.69 627.89 C159.61 632.25 159.47 638.78 159.42 640.95" stroke-width="0.56" opacity="0.22"/>
<path d="M188.07 564.48 C188.06 565.51 188.04 568.60 188.02 570.66 C188.01 572.72 188.00 574.79 187.98 576.85 C187.97 578.91 187.96 580.97 187.94 583.03 C187.93 585.10 187.97 587.16 187.90 589.22 C187.84 591.28 187.70 593.34 187.57 595.41 C187.44 597.47 187.27 599.53 187.11 601.59 C186.96 603.65 186.73 606.75 186.65 607.78" stroke-width="0.65" opacity="0.42"/>
<path d="M191.00 552.19 C191.00 553.49 191.00 557.40 191.00 560.00 C191.00 562.61 190.99 565.21 190.99 567.81 C190.99 570.42 190.99 573.02 190.99 575.62 C190.99 578.23 190.99 580.83 190.99 583.43 C190.98 586.04 191.04 588.64 190.97 591.24 C190.90 593.85 190.69 596.45 190.56 599.06 C190.42 601.66 190.21 605.56 190.14 606.87" stroke-width="0.47" opacity="0.24"/>
<path d="M198.28 549.42 C198.18 551.68 197.88 558.46 197.69 562.98 C197.50 567.50 197.31 572.02 197.12 576.54 C196.93 581.06 196.81 585.58 196.57 590.10 C196.33 594.62 196.00 599.14 195.70 603.66 C195.40 608.18 195.06 612.70 194.78 617.22 C194.50 621.74 194.26 626.26 194.02 630.78 C193.78 635.30 193.46 642.08 193.34 644.34" stroke-width="0.53" opacity="0.22"/>
<path d="M193.23 571.71 C193.15 573.47 192.93 578.75 192.76 582.26 C192.59 585.78 192.47 589.29 192.22 592.81 C191.97 596.33 191.59 599.84 191.27 603.36 C190.95 606.87 190.61 610.39 190.30 613.91 C189.98 617.42 189.65 620.94 189.38 624.45 C189.11 627.97 188.91 631.49 188.67 635.00 C188.44 638.52 188.08 643.79 187.96 645.55" stroke-width="0.65" opacity="0.35"/>
<path d="M213.68 555.77 C213.64 557.69 213.50 563.46 213.40 567.30 C213.31 571.14 213.22 574.98 213.12 578.82 C213.03 582.66 212.94 586.50 212.84 590.34 C212.75 594.18 212.65 598.02 212.56 601.86 C212.46 605.71 212.37 609.55 212.27 613.39 C212.18 617.23 212.08 621.07 211.99 624.91 C211.89 628.75 211.74 634.51 211.69 636.43" stroke-width="0.54" opacity="0.37"/>
<path d="M213.80 584.22 C213.76 585.69 213.61 590.09 213.52 593.03 C213.42 595.96 213.33 598.89 213.23 601.83 C213.14 604.76 213.04 607.69 212.95 610.63 C212.85 613.56 212.75 616.50 212.65 619.43 C212.56 622.36 212.46 625.30 212.36 628.23 C212.26 631.17 212.16 634.10 212.06 637.03 C211.96 639.97 211.81 644.37 211.76 645.83" stroke-width="0.65" opacity="0.37"/>
<path d="M241.55 558.41 C241.51 560.00 241.38 564.77 241.29 567.95 C241.20 571.13 241.10 574.31 241.02 577.49 C240.93 580.67 240.85 583.86 240.77 587.04 C240.68 590.22 240.60 593.40 240.51 596.58 C240.43 599.76 240.30 602.94 240.25 606.12 C240.20 609.30 240.24 612.48 240.23 615.66 C240.22 618.84 240.21 623.62 240.21 625.21" stroke-width="0.47" opacity="0.19"/>
<path d="M232.90 559.84 C232.83 561.58 232.63 566.80 232.50 570.28 C232.37 573.76 232.23 577.24 232.10 580.72 C231.97 584.20 231.83 587.68 231.70 591.16 C231.56 594.64 231.42 598.12 231.30 601.60 C231.18 605.08 231.08 608.56 230.97 612.04 C230.87 615.53 230.79 619.01 230.70 622.49 C230.61 625.97 230.47 631.19 230.43 632.93" stroke-width="0.68" opacity="0.29"/>
<path d="M241.94 590.56 C241.93 591.22 241.90 593.22 241.88 594.54 C241.87 595.87 241.85 597.20 241.83 598.53 C241.81 599.86 241.79 601.18 241.77 602.51 C241.76 603.84 241.72 605.17 241.72 606.50 C241.72 607.83 241.76 609.15 241.78 610.48 C241.79 611.81 241.81 613.14 241.83 614.47 C241.85 615.80 241.87 617.79 241.88 618.45" stroke-width="0.43" opacity="0.23"/>
<path d="M234.42 575.95 C234.34 577.52 234.11 582.25 233.96 585.40 C233.81 588.55 233.66 591.70 233.51 594.85 C233.36 598.00 233.20 601.15 233.07 604.30 C232.94 607.45 232.84 610.60 232.73 613.75 C232.63 616.90 232.53 620.05 232.43 623.20 C232.33 626.35 232.23 629.50 232.12 632.65 C232.02 635.80 231.87 640.52 231.82 642.10" stroke-width="0.64" opacity="0.30"/>
<path d="M239.42 552.14 C239.38 554.03 239.29 559.70 239.22 563.48 C239.15 567.26 239.08 571.04 239.01 574.82 C238.94 578.60 238.88 582.38 238.81 586.16 C238.74 589.94 238.66 593.72 238.60 597.50 C238.54 601.28 238.46 605.06 238.44 608.84 C238.42 612.62 238.46 616.40 238.47 620.18 C238.48 623.96 238.50 629.63 238.50 631.52" stroke-width="0.67" opacity="0.37"/>
<path d="M260.48 556.28 C260.46 558.21 260.41 563.99 260.37 567.84 C260.33 571.69 260.29 575.55 260.25 579.40 C260.22 583.25 260.18 587.10 260.14 590.96 C260.10 594.81 260.07 598.66 260.03 602.52 C259.99 606.37 259.95 610.22 259.91 614.07 C259.88 617.93 259.84 621.78 259.80 625.63 C259.76 629.49 259.71 635.26 259.69 637.19" stroke-width="0.47" opacity="0.37"/>
<path d="M281.96 566.12 C281.90 567.98 281.74 573.55 281.59 577.27 C281.44 580.98 281.20 584.70 281.06 588.41 C280.92 592.13 280.84 595.85 280.77 599.56 C280.70 603.28 280.67 606.99 280.66 610.71 C280.65 614.42 280.73 618.14 280.71 621.86 C280.69 625.57 280.61 629.29 280.57 633.00 C280.52 636.72 280.45 642.29 280.43 644.15" stroke-width="0.60" opacity="0.22"/>
<path d="M273.96 588.34 C273.96 589.53 273.96 593.07 273.96 595.43 C273.97 597.79 274.02 600.16 273.99 602.52 C273.96 604.88 273.90 607.25 273.78 609.61 C273.66 611.97 273.44 614.33 273.27 616.70 C273.10 619.06 272.92 621.42 272.75 623.78 C272.58 626.15 272.42 628.51 272.25 630.87 C272.09 633.23 271.84 636.78 271.75 637.96" stroke-width="0.40" opacity="0.38"/>
<path d="M281.61 563.87 C281.59 565.36 281.54 569.84 281.48 572.83 C281.42 575.81 281.33 578.80 281.24 581.78 C281.15 584.77 281.00 587.76 280.94 590.74 C280.87 593.73 280.88 596.72 280.86 599.70 C280.85 602.69 280.83 605.67 280.85 608.66 C280.88 611.65 280.99 614.63 281.03 617.62 C281.08 620.60 281.12 625.08 281.13 626.58" stroke-width="0.40" opacity="0.18"/>
<path d="M281.42 571.65 C281.38 573.36 281.25 578.50 281.16 581.92 C281.06 585.35 280.91 588.77 280.84 592.20 C280.78 595.62 280.76 599.05 280.76 602.47 C280.77 605.90 280.81 609.32 280.85 612.75 C280.89 616.17 280.99 619.60 281.03 623.02 C281.06 626.45 281.05 629.87 281.06 633.30 C281.07 636.72 281.10 641.86 281.11 643.57" stroke-width="0.50" opacity="0.39"/>
<path d="M281.12 559.52 C281.07 560.85 280.92 564.83 280.82 567.48 C280.72 570.14 280.64 572.80 280.53 575.45 C280.42 578.11 280.27 580.76 280.14 583.42 C280.01 586.07 279.86 588.73 279.77 591.39 C279.68 594.04 279.65 596.70 279.59 599.35 C279.53 602.01 279.47 604.67 279.43 607.32 C279.38 609.98 279.32 613.96 279.30 615.29" stroke-width="0.43" opacity="0.32"/>
<path d="M295.03 554.19 C294.99 556.29 294.89 562.60 294.83 566.81 C294.76 571.01 294.70 575.22 294.63 579.43 C294.56 583.63 294.55 587.84 294.40 592.05 C294.25 596.25 293.94 600.46 293.74 604.67 C293.54 608.87 293.33 613.08 293.20 617.29 C293.07 621.49 293.04 625.70 292.96 629.91 C292.88 634.11 292.77 640.42 292.73 642.53" stroke-width="0.47" opacity="0.29"/>
<path d="M318.88 566.97 C318.92 568.78 319.12 574.20 319.08 577.81 C319.04 581.43 318.78 585.04 318.63 588.65 C318.47 592.27 318.32 595.88 318.15 599.50 C317.99 603.11 317.82 606.73 317.66 610.34 C317.50 613.95 317.26 617.57 317.20 621.18 C317.14 624.80 317.27 628.41 317.30 632.03 C317.34 635.64 317.41 641.06 317.43 642.87" stroke-width="0.53" opacity="0.31"/>
<path d="M320.02 567.83 C319.99 568.84 319.94 571.89 319.83 573.92 C319.71 575.95 319.52 577.97 319.33 580.00 C319.15 582.03 318.92 584.06 318.72 586.09 C318.52 588.12 318.32 590.15 318.12 592.18 C317.92 594.21 317.73 596.24 317.52 598.26 C317.31 600.29 317.09 602.32 316.87 604.35 C316.65 606.38 316.32 609.42 316.21 610.44" stroke-width="0.35" opacity="0.37"/>
<path d="M337.17 580.41 C337.12 581.52 337.00 584.84 336.83 587.06 C336.65 589.27 336.36 591.49 336.13 593.70 C335.90 595.92 335.67 598.13 335.44 600.35 C335.21 602.56 334.96 604.77 334.77 606.99 C334.58 609.20 334.46 611.42 334.30 613.63 C334.14 615.85 333.99 618.06 333.83 620.28 C333.67 622.49 333.43 625.81 333.36 626.92" stroke-width="0.46" opacity="0.30"/>
<path d="M340.37 553.08 C340.38 554.85 340.44 560.13 340.45 563.66 C340.46 567.18 340.47 570.70 340.42 574.23 C340.37 577.75 340.37 581.28 340.16 584.80 C339.96 588.32 339.51 591.85 339.18 595.37 C338.85 598.90 338.43 602.42 338.19 605.94 C337.96 609.47 337.90 612.99 337.76 616.52 C337.62 620.04 337.42 625.33 337.35 627.09" stroke-width="0.44" opacity="0.25"/>
<path d="M342.96 573.20 C342.87 574.69 342.68 579.17 342.44 582.16 C342.20 585.14 341.83 588.13 341.52 591.11 C341.20 594.10 340.83 597.09 340.54 600.07 C340.24 603.06 339.93 606.04 339.73 609.03 C339.53 612.02 339.46 615.00 339.32 617.99 C339.19 620.97 339.01 623.96 338.91 626.95 C338.82 629.93 338.79 634.41 338.76 635.90" stroke-width="0.67" opacity="0.29"/>
<path d="M341.47 571.01 C341.41 572.48 341.30 576.91 341.13 579.86 C340.95 582.80 340.69 585.75 340.41 588.70 C340.13 591.65 339.78 594.60 339.46 597.55 C339.14 600.50 338.75 603.45 338.51 606.40 C338.28 609.34 338.21 612.29 338.05 615.24 C337.90 618.19 337.72 621.14 337.59 624.09 C337.46 627.04 337.34 631.46 337.28 632.94" stroke-width="0.51" opacity="0.31"/>
<path d="M339.50 579.27 C339.44 580.74 339.31 585.15 339.12 588.09 C338.93 591.04 338.63 593.98 338.38 596.92 C338.13 599.86 337.81 602.80 337.63 605.75 C337.45 608.69 337.40 611.63 337.30 614.57 C337.19 617.51 337.08 620.46 337.01 623.40 C336.94 626.34 336.87 629.28 336.86 632.22 C336.85 635.17 336.95 639.58 336.97 641.05" stroke-width="0.68" opacity="0.24"/>
<path d="M361.73 585.48 C361.69 586.03 361.56 587.67 361.47 588.76 C361.38 589.85 361.29 590.94 361.20 592.03 C361.12 593.12 361.03 594.22 360.94 595.31 C360.85 596.40 360.76 597.49 360.67 598.58 C360.58 599.67 360.49 600.77 360.40 601.86 C360.31 602.95 360.21 604.04 360.12 605.13 C360.03 606.23 359.90 607.86 359.86 608.41" stroke-width="0.39" opacity="0.29"/>
<path d="M358.52 551.63 C358.51 553.54 358.47 559.27 358.45 563.10 C358.44 566.92 358.61 570.74 358.42 574.57 C358.23 578.39 357.70 582.21 357.31 586.03 C356.92 589.86 356.51 593.68 356.10 597.50 C355.68 601.33 355.29 605.15 354.80 608.97 C354.31 612.79 353.69 616.62 353.18 620.44 C352.67 624.26 351.98 630.00 351.74 631.91" stroke-width="0.62" opacity="0.40"/>
<path d="M358.49 577.55 C358.43 578.29 358.25 580.51 358.13 581.99 C358.01 583.47 357.90 584.96 357.78 586.44 C357.66 587.92 357.54 589.40 357.42 590.88 C357.30 592.37 357.18 593.85 357.06 595.33 C356.94 596.81 356.82 598.29 356.70 599.78 C356.58 601.26 356.46 602.74 356.33 604.22 C356.20 605.70 355.97 607.93 355.90 608.67" stroke-width="0.66" opacity="0.41"/>
<path d="M378.65 565.98 C378.64 567.36 378.66 571.49 378.62 574.25 C378.58 577.01 378.49 579.76 378.41 582.52 C378.33 585.28 378.24 588.03 378.15 590.79 C378.07 593.54 377.99 596.30 377.90 599.06 C377.81 601.81 377.74 604.57 377.63 607.33 C377.51 610.08 377.34 612.84 377.19 615.60 C377.04 618.35 376.83 622.49 376.75 623.87" stroke-width="0.70" opacity="0.38"/>
<path d="M398.46 571.16 C398.42 572.26 398.35 575.56 398.22 577.76 C398.08 579.95 397.85 582.15 397.67 584.35 C397.49 586.55 397.31 588.75 397.13 590.95 C396.95 593.14 396.77 595.34 396.59 597.54 C396.41 599.74 396.21 601.94 396.05 604.14 C395.88 606.33 395.73 608.53 395.57 610.73 C395.42 612.93 395.21 616.23 395.14 617.33" stroke-width="0.42" opacity="0.26"/>
<path d="M404.90 572.86 C404.79 574.02 404.47 577.52 404.22 579.85 C403.98 582.18 403.69 584.51 403.42 586.84 C403.16 589.17 402.89 591.50 402.63 593.83 C402.36 596.16 402.09 598.49 401.83 600.82 C401.58 603.16 401.31 605.49 401.09 607.82 C400.87 610.15 400.71 612.48 400.52 614.81 C400.33 617.14 400.04 620.63 399.95 621.80" stroke-width="0.36" opacity="0.26"/>
<path d="M403.86 551.24 C403.78 553.49 403.58 560.25 403.41 564.75 C403.24 569.26 403.11 573.76 402.83 578.27 C402.55 582.77 402.08 587.28 401.70 591.78 C401.33 596.29 400.89 600.79 400.58 605.30 C400.26 609.80 400.05 614.31 399.82 618.81 C399.59 623.32 399.35 627.82 399.23 632.33 C399.10 636.83 399.12 643.59 399.09 645.84" stroke-width="0.63" opacity="0.41"/>
<path d="M420.23 550.15 C420.18 552.21 420.03 558.39 419.93 562.52 C419.84 566.64 419.91 570.77 419.65 574.89 C419.38 579.01 418.78 583.14 418.34 587.26 C417.89 591.38 417.41 595.51 416.98 599.63 C416.54 603.75 416.13 607.88 415.73 612.00 C415.34 616.13 414.92 620.25 414.62 624.37 C414.32 628.50 414.04 634.68 413.93 636.74" stroke-width="0.44" opacity="0.21"/>
<path d="M421.51 584.55 C421.46 585.25 421.29 587.34 421.18 588.73 C421.07 590.12 420.96 591.51 420.85 592.90 C420.74 594.29 420.63 595.68 420.52 597.08 C420.40 598.47 420.29 599.86 420.18 601.25 C420.07 602.64 419.93 604.03 419.84 605.42 C419.75 606.81 419.69 608.21 419.62 609.60 C419.56 610.99 419.47 613.08 419.44 613.77" stroke-width="0.40" opacity="0.40"/>
<path d="M424.30 552.35 C424.29 553.60 424.26 557.35 424.25 559.86 C424.23 562.36 424.21 564.86 424.19 567.36 C424.17 569.86 424.25 572.37 424.13 574.87 C424.01 577.37 423.71 579.87 423.48 582.38 C423.25 584.88 422.99 587.38 422.75 589.88 C422.51 592.38 422.26 594.89 422.02 597.39 C421.78 599.89 421.41 603.64 421.29 604.89" stroke-width="0.59" opacity="0.28"/>
<path d="M418.29 576.41 C418.20 577.87 417.91 582.25 417.71 585.17 C417.52 588.09 417.32 591.01 417.12 593.93 C416.92 596.85 416.70 599.77 416.52 602.69 C416.33 605.61 416.17 608.54 416.01 611.46 C415.85 614.38 415.72 617.30 415.58 620.22 C415.44 623.14 415.22 626.06 415.16 628.98 C415.10 631.90 415.21 636.28 415.22 637.74" stroke-width="0.38" opacity="0.39"/>
<path d="M441.11 568.43 C441.13 569.60 441.21 573.09 441.25 575.42 C441.30 577.75 441.51 580.07 441.37 582.40 C441.24 584.73 440.78 587.06 440.45 589.39 C440.11 591.72 439.76 594.04 439.36 596.37 C438.96 598.70 438.50 601.03 438.06 603.36 C437.62 605.69 437.11 608.01 436.73 610.34 C436.34 612.67 435.91 616.16 435.75 617.33" stroke-width="0.54" opacity="0.40"/>
<path d="M443.62 571.66 C443.57 572.64 443.40 575.59 443.30 577.55 C443.19 579.51 443.22 581.47 442.98 583.44 C442.74 585.40 442.22 587.36 441.85 589.33 C441.47 591.29 441.10 593.25 440.72 595.22 C440.34 597.18 439.96 599.14 439.56 601.10 C439.16 603.07 438.70 605.03 438.34 606.99 C437.97 608.96 437.53 611.90 437.37 612.88" stroke-width="0.39" opacity="0.22"/>
<path d="M441.57 562.17 C441.62 563.45 441.84 567.28 441.87 569.84 C441.89 572.39 441.81 574.95 441.72 577.50 C441.62 580.06 441.59 582.61 441.29 585.16 C440.99 587.72 440.39 590.27 439.92 592.83 C439.46 595.38 439.01 597.94 438.48 600.49 C437.95 603.05 437.29 605.60 436.75 608.16 C436.21 610.71 435.49 614.54 435.23 615.82" stroke-width="0.62" opacity="0.25"/>
<path d="M445.65 563.72 C445.64 564.66 445.68 567.47 445.59 569.35 C445.50 571.23 445.26 573.11 445.10 574.99 C444.94 576.86 444.84 578.74 444.63 580.62 C444.42 582.50 444.14 584.38 443.82 586.25 C443.49 588.13 443.06 590.01 442.68 591.89 C442.30 593.77 441.91 595.64 441.55 597.52 C441.19 599.40 440.68 602.22 440.50 603.16" stroke-width="0.44" opacity="0.18"/>
<path d="M446.94 556.76 C446.97 558.35 447.19 563.10 447.09 566.27 C447.00 569.44 446.69 572.61 446.38 575.78 C446.08 578.95 445.77 582.12 445.27 585.28 C444.77 588.45 443.95 591.62 443.37 594.79 C442.79 597.96 442.14 601.13 441.77 604.30 C441.39 607.47 441.19 610.64 441.13 613.81 C441.07 616.98 441.36 621.73 441.41 623.31" stroke-width="0.68" opacity="0.21"/>
<path d="M467.42 570.25 C467.33 571.89 467.09 576.82 466.86 580.10 C466.63 583.38 466.32 586.67 466.05 589.95 C465.79 593.23 465.50 596.52 465.28 599.80 C465.07 603.08 464.94 606.37 464.77 609.65 C464.60 612.93 464.37 616.22 464.25 619.50 C464.14 622.78 464.12 626.07 464.08 629.35 C464.03 632.63 464.00 637.56 463.99 639.20" stroke-width="0.49" opacity="0.30"/>
<path d="M464.98 563.53 C464.99 565.33 465.08 570.73 465.02 574.32 C464.96 577.92 464.78 581.52 464.63 585.12 C464.49 588.72 464.29 592.32 464.17 595.91 C464.05 599.51 463.97 603.11 463.89 606.71 C463.80 610.31 463.69 613.91 463.67 617.51 C463.65 621.10 463.69 624.70 463.75 628.30 C463.81 631.90 463.97 637.30 464.02 639.10" stroke-width="0.60" opacity="0.33"/>
<path d="M463.65 550.80 C463.60 552.16 463.46 556.26 463.37 558.98 C463.27 561.71 463.18 564.44 463.09 567.17 C463.00 569.90 462.96 572.62 462.82 575.35 C462.67 578.08 462.42 580.81 462.23 583.54 C462.03 586.26 461.82 588.99 461.63 591.72 C461.43 594.45 461.23 597.17 461.05 599.90 C460.87 602.63 460.64 606.72 460.56 608.09" stroke-width="0.37" opacity="0.36"/>
<path d="M482.17 552.13 C482.09 554.21 481.83 560.45 481.66 564.61 C481.50 568.77 481.33 572.93 481.17 577.09 C481.00 581.25 480.85 585.41 480.68 589.57 C480.51 593.73 480.33 597.89 480.15 602.05 C479.98 606.21 479.81 610.37 479.64 614.53 C479.47 618.69 479.30 622.85 479.14 627.01 C478.97 631.17 478.73 637.41 478.65 639.49" stroke-width="0.65" opacity="0.34"/>
<path d="M481.88 561.34 C481.82 562.80 481.66 567.18 481.56 570.09 C481.45 573.01 481.34 575.93 481.24 578.85 C481.13 581.77 481.03 584.69 480.92 587.61 C480.82 590.53 480.70 593.45 480.59 596.37 C480.48 599.28 480.36 602.20 480.25 605.12 C480.13 608.04 480.02 610.96 479.91 613.88 C479.80 616.80 479.63 621.18 479.58 622.64" stroke-width="0.41" opacity="0.29"/>
<path d="M501.13 591.34 C501.16 592.17 501.22 594.69 501.27 596.36 C501.31 598.04 501.35 599.71 501.40 601.38 C501.44 603.06 501.48 604.73 501.53 606.41 C501.57 608.08 501.61 609.76 501.66 611.43 C501.70 613.11 501.74 614.78 501.79 616.46 C501.83 618.13 501.87 619.81 501.92 621.48 C501.96 623.16 502.02 625.67 502.05 626.51" stroke-width="0.44" opacity="0.41"/>
<path d="M501.97 548.45 C501.96 550.13 501.94 555.19 501.92 558.56 C501.90 561.92 501.88 565.29 501.86 568.66 C501.84 572.03 501.82 575.40 501.81 578.77 C501.79 582.14 501.77 585.51 501.75 588.88 C501.73 592.25 501.72 595.62 501.70 598.99 C501.68 602.36 501.66 605.72 501.64 609.09 C501.63 612.46 501.60 617.52 501.59 619.20" stroke-width="0.52" opacity="0.30"/>
<path d="M500.61 548.62 C500.62 550.18 500.63 554.85 500.64 557.96 C500.65 561.08 500.65 564.19 500.66 567.30 C500.67 570.42 500.68 573.53 500.69 576.65 C500.69 579.76 500.70 582.87 500.71 585.99 C500.72 589.10 500.73 592.22 500.74 595.33 C500.74 598.45 500.75 601.56 500.76 604.67 C500.77 607.79 500.78 612.46 500.78 614.02" stroke-width="0.38" opacity="0.28"/>
<path d="M500.12 561.83 C500.09 563.04 500.01 566.67 499.95 569.09 C499.90 571.51 499.85 573.93 499.79 576.35 C499.74 578.76 499.68 581.18 499.63 583.60 C499.58 586.02 499.52 588.44 499.47 590.86 C499.42 593.28 499.36 595.70 499.31 598.12 C499.26 600.54 499.20 602.96 499.15 605.38 C499.10 607.79 499.02 611.42 498.99 612.63" stroke-width="0.55" opacity="0.31"/>
<path d="M524.14 580.01 C524.14 581.46 524.11 585.83 524.14 588.74 C524.16 591.66 524.22 594.57 524.28 597.48 C524.33 600.39 524.41 603.30 524.47 606.22 C524.53 609.13 524.59 612.04 524.64 614.95 C524.69 617.87 524.73 620.78 524.77 623.69 C524.81 626.60 524.85 629.51 524.90 632.43 C524.94 635.34 525.01 639.71 525.03 641.16" stroke-width="0.49" opacity="0.26"/>
<path d="M547.00 580.37 C546.97 581.57 546.86 585.17 546.79 587.57 C546.72 589.96 546.65 592.36 546.57 594.76 C546.50 597.16 546.43 599.56 546.36 601.96 C546.29 604.36 546.23 606.76 546.16 609.16 C546.09 611.56 546.02 613.96 545.95 616.36 C545.88 618.75 545.81 621.15 545.75 623.55 C545.68 625.95 545.58 629.55 545.54 630.75" stroke-width="0.37" opacity="0.38"/>
<path d="M564.96 580.80 C564.96 582.16 564.98 586.26 564.99 589.00 C564.99 591.73 565.00 594.47 565.00 597.20 C565.00 599.93 564.98 602.67 564.96 605.40 C564.95 608.14 564.94 610.87 564.93 613.60 C564.92 616.34 564.90 619.07 564.89 621.81 C564.88 624.54 564.87 627.27 564.86 630.01 C564.85 632.74 564.83 636.84 564.83 638.21" stroke-width="0.40" opacity="0.31"/>
</g>
<path d="M497.96 548.40 C497.52 555.50 496.12 580.05 495.35 590.98 C494.58 601.91 493.87 604.73 493.36 613.98 C492.85 623.22 492.46 641.06 492.28 646.47 L495.35 646.47 C495.48 641.06 495.68 623.22 496.12 613.98 C496.55 604.73 497.34 601.91 497.96 590.98 C498.57 580.05 499.49 555.50 499.80 548.40 Z" fill="#5AAB97" opacity="0.75"/>
<path d="M120.69 548.40 C120.36 555.50 119.26 574.64 118.70 590.98 C118.14 607.33 117.55 637.22 117.32 646.47 L118.09 646.47 C118.32 637.22 118.88 607.33 119.47 590.98 C120.05 574.64 121.25 555.50 121.61 548.40 Z" fill="#5AAB97" opacity="0.80"/>
<path d="M79.57 548.40 C79.47 558.05 79.03 589.97 78.95 606.31 C78.88 622.66 79.08 639.78 79.11 646.47 L79.72 646.47 C79.67 639.78 79.34 622.66 79.41 606.31 C79.49 589.97 80.05 558.05 80.18 548.40 Z" fill="#5AAB97" opacity="0.80"/>
<path d="M438.12 548.40 C438.01 552.94 438.12 566.00 437.50 575.66 C436.89 585.31 435.38 594.51 434.44 606.31 C433.49 618.11 432.27 639.78 431.83 646.47 L432.90 646.47 C433.31 639.78 434.39 618.11 435.36 606.31 C436.33 594.51 438.12 585.31 438.73 575.66 C439.34 566.00 438.99 552.94 439.04 548.40 Z" fill="#5AAB97" opacity="0.70"/>
<path d="M181.90 548.40 C181.92 556.77 182.49 586.44 182.05 598.65 C181.62 610.85 179.96 613.67 179.29 621.64 C178.63 629.61 178.27 642.33 178.07 646.47 L179.90 646.47 C180.01 642.33 180.01 629.61 180.52 621.64 C181.03 613.67 182.61 610.85 182.97 598.65 C183.33 586.44 182.72 556.77 182.66 548.40 Z" fill="#5AAB97" opacity="0.60"/>
<g fill="none" stroke="#fff" stroke-linecap="round">
<path d="M45.23 548.40 C45.21 556.26 45.03 579.24 45.08 595.58 C45.13 611.93 45.46 637.99 45.54 646.47" stroke-width="0.90" opacity="0.85"/>
<path d="M41.86 575.66 C41.61 578.98 40.28 589.20 40.33 595.58 C40.38 601.97 41.86 610.91 42.17 613.98" stroke-width="0.80" opacity="0.60"/>
<path d="M33.43 572.59 C33.61 576.42 34.58 587.92 34.50 595.58 C34.43 603.25 33.23 614.74 32.97 618.57" stroke-width="0.70" opacity="0.50"/>
<path d="M43.09 583.32 C42.83 585.87 41.45 594.31 41.55 598.65 C41.66 602.99 43.34 607.59 43.70 609.38" stroke-width="0.60" opacity="0.50"/>
<path d="M59.03 595.58 C58.93 604.06 58.52 637.99 58.42 646.47" stroke-width="0.60" opacity="0.60"/>
<path d="M82.02 583.32 C82.22 588.43 83.04 608.87 83.25 613.98" stroke-width="0.60" opacity="0.40"/>
<path d="M131.42 560.33 C131.60 565.44 132.32 585.87 132.50 590.98" stroke-width="0.60" opacity="0.50"/>
<path d="M159.01 583.32 C158.96 587.15 158.76 602.48 158.71 606.31" stroke-width="0.70" opacity="0.50"/>
<path d="M195.08 548.40 C195.03 556.26 194.93 579.24 194.77 595.58 C194.62 611.93 194.26 637.99 194.16 646.47" stroke-width="0.90" opacity="0.90"/>
<path d="M236.01 583.32 C236.26 588.43 237.28 608.87 237.54 613.98" stroke-width="0.80" opacity="0.50"/>
<path d="M237.84 580.25 C237.49 585.11 236.06 604.52 235.70 609.38" stroke-width="0.70" opacity="0.50"/>
<path d="M215.16 554.20 C215.06 557.77 214.65 572.08 214.55 575.66" stroke-width="0.60" opacity="0.40"/>
<path d="M272.59 621.64 C272.74 624.19 273.36 634.41 273.51 636.97" stroke-width="0.60" opacity="0.50"/>
<path d="M259.56 618.57 C259.48 622.66 259.18 639.01 259.10 643.10" stroke-width="0.60" opacity="0.40"/>
<path d="M310.52 595.58 C310.36 602.48 309.75 630.07 309.60 636.97" stroke-width="0.70" opacity="0.50"/>
<path d="M336.42 551.13 C336.68 555.22 337.70 571.57 337.96 575.66" stroke-width="0.60" opacity="0.45"/>
<path d="M339.49 551.13 C339.67 555.73 340.38 574.12 340.56 578.72" stroke-width="0.60" opacity="0.45"/>
<path d="M343.32 551.13 C343.45 555.22 343.96 571.57 344.09 575.66" stroke-width="0.60" opacity="0.45"/>
<path d="M421.10 548.40 C421.00 554.22 420.59 577.50 420.49 583.32" stroke-width="0.70" opacity="0.50"/>
<path d="M405.16 575.66 C404.85 581.28 403.63 603.76 403.32 609.38" stroke-width="0.60" opacity="0.40"/>
<path d="M460.19 548.40 C460.06 554.22 459.55 577.50 459.42 583.32" stroke-width="0.60" opacity="0.45"/>
<path d="M462.49 548.40 C462.31 555.50 461.59 583.89 461.42 590.98" stroke-width="0.60" opacity="0.45"/>
<path d="M484.41 548.40 C484.25 555.50 483.92 574.64 483.49 590.98 C483.05 607.33 482.08 637.22 481.80 646.47" stroke-width="1.30" opacity="0.95"/>
<path d="M503.17 548.40 C503.19 564.75 503.30 630.13 503.32 646.47" stroke-width="0.80" opacity="0.70"/>
<path d="M526.62 583.32 C526.54 588.43 526.24 608.87 526.16 613.98" stroke-width="0.60" opacity="0.50"/>
</g>
<polygon points="278.57,569.52 280.87,569.52 277.34,598.65" fill="#fff" opacity="0.80"/>
<polygon points="280.10,575.66 281.33,574.12 279.33,597.12" fill="#fff" opacity="0.55"/>
<polygon points="276.88,598.65 275.04,618.57 277.04,618.57" fill="#fff" opacity="0.80"/>
<polygon points="276.12,595.58 277.80,595.58 277.04,606.31 276.42,606.31" fill="#fff" opacity="0.90"/>
<rect x="30.35" y="538.30" width="19.30" height="10.10" rx="2.6" fill="#fff" stroke="#222" stroke-width="0.6"/>
<rect x="30.35" y="646.50" width="18.80" height="10.40" rx="2.6" fill="#fff" stroke="#222" stroke-width="0.6"/>
<text x="41.40" y="536.8" font-size="8.9" text-anchor="middle" fill="#111" stroke-width="0.3">1</text>
<text x="41.00" y="665.8" font-size="8.9" text-anchor="middle" fill="#111" stroke-width="0.3">1</text>
<rect x="57.45" y="538.30" width="13.20" height="10.10" rx="2.6" fill="#fff" stroke="#222" stroke-width="0.6"/>
<rect x="56.25" y="646.50" width="15.00" height="10.40" rx="2.6" fill="#fff" stroke="#222" stroke-width="0.6"/>
<text x="64.50" y="536.8" font-size="8.9" text-anchor="middle" fill="#111" stroke-width="0.3">2</text>
<text x="64.50" y="665.8" font-size="8.9" text-anchor="middle" fill="#111" stroke-width="0.3">2</text>
<rect x="78.45" y="538.30" width="18.30" height="10.10" rx="2.6" fill="#fff" stroke="#222" stroke-width="0.6"/>
<rect x="78.45" y="646.50" width="22.10" height="10.40" rx="2.6" fill="#fff" stroke="#222" stroke-width="0.6"/>
<text x="87.80" y="536.8" font-size="8.9" text-anchor="middle" fill="#111" stroke-width="0.3">3</text>
<text x="89.80" y="665.8" font-size="8.9" text-anchor="middle" fill="#111" stroke-width="0.3">3</text>
<rect x="103.75" y="538.30" width="18.40" height="10.10" rx="2.6" fill="#fff" stroke="#222" stroke-width="0.6"/>
<rect x="108.55" y="646.50" width="16.10" height="10.40" rx="2.6" fill="#fff" stroke="#222" stroke-width="0.6"/>
<text x="113.20" y="536.8" font-size="8.9" text-anchor="middle" fill="#111" stroke-width="0.3">4</text>
<text x="117.40" y="665.8" font-size="8.9" text-anchor="middle" fill="#111" stroke-width="0.3">4</text>
<rect x="129.35" y="538.30" width="19.10" height="10.10" rx="2.6" fill="#fff" stroke="#222" stroke-width="0.6"/>
<rect x="132.35" y="646.50" width="17.40" height="10.40" rx="2.6" fill="#fff" stroke="#222" stroke-width="0.6"/>
<text x="139.50" y="536.8" font-size="8.9" text-anchor="middle" fill="#111" stroke-width="0.3">5</text>
<text x="141.50" y="665.8" font-size="8.9" text-anchor="middle" fill="#111" stroke-width="0.3">5</text>
<rect x="155.75" y="538.30" width="16.60" height="10.10" rx="2.6" fill="#fff" stroke="#222" stroke-width="0.6"/>
<rect x="157.05" y="646.50" width="14.00" height="10.40" rx="2.6" fill="#fff" stroke="#222" stroke-width="0.6"/>
<text x="164.90" y="536.8" font-size="8.9" text-anchor="middle" fill="#111" stroke-width="0.3">6</text>
<text x="164.70" y="665.8" font-size="8.9" text-anchor="middle" fill="#111" stroke-width="0.3">6</text>
<rect x="179.65" y="538.30" width="23.30" height="10.10" rx="2.6" fill="#fff" stroke="#222" stroke-width="0.6"/>
<rect x="178.35" y="646.50" width="21.60" height="10.40" rx="2.6" fill="#fff" stroke="#222" stroke-width="0.6"/>
<text x="191.00" y="536.8" font-size="8.9" text-anchor="middle" fill="#111" stroke-width="0.3">7</text>
<text x="189.00" y="665.8" font-size="8.9" text-anchor="middle" fill="#111" stroke-width="0.3">7</text>
<rect x="209.75" y="538.30" width="13.30" height="10.10" rx="2.6" fill="#fff" stroke="#222" stroke-width="0.6"/>
<rect x="207.45" y="646.50" width="13.30" height="10.40" rx="2.6" fill="#fff" stroke="#222" stroke-width="0.6"/>
<text x="216.60" y="536.8" font-size="8.9" text-anchor="middle" fill="#111" stroke-width="0.3">8</text>
<text x="214.60" y="665.8" font-size="8.9" text-anchor="middle" fill="#111" stroke-width="0.3">8</text>
<rect x="230.55" y="538.30" width="15.50" height="10.10" rx="2.6" fill="#fff" stroke="#222" stroke-width="0.6"/>
<rect x="228.05" y="646.50" width="15.80" height="10.40" rx="2.6" fill="#fff" stroke="#222" stroke-width="0.6"/>
<text x="238.40" y="536.8" font-size="8.9" text-anchor="middle" fill="#111" stroke-width="0.3">9</text>
<text x="236.20" y="665.8" font-size="8.9" text-anchor="middle" fill="#111" stroke-width="0.3">9</text>
<rect x="253.65" y="538.30" width="9.50" height="10.10" rx="2.6" fill="#fff" stroke="#222" stroke-width="0.6"/>
<rect x="251.35" y="646.50" width="10.50" height="10.40" rx="2.6" fill="#fff" stroke="#222" stroke-width="0.6"/>
<text x="259.00" y="536.8" font-size="8.9" text-anchor="middle" fill="#111" stroke-width="0.3">10</text>
<text x="257.50" y="665.8" font-size="8.9" text-anchor="middle" fill="#111" stroke-width="0.3">10</text>
<rect x="270.65" y="538.30" width="12.60" height="10.10" rx="2.6" fill="#fff" stroke="#222" stroke-width="0.6"/>
<rect x="268.95" y="646.50" width="11.80" height="10.40" rx="2.6" fill="#fff" stroke="#222" stroke-width="0.6"/>
<text x="278.30" y="536.8" font-size="8.9" text-anchor="middle" fill="#111" stroke-width="0.3">11</text>
<text x="276.30" y="665.8" font-size="8.9" text-anchor="middle" fill="#111" stroke-width="0.3">11</text>
<rect x="290.25" y="538.30" width="13.80" height="10.10" rx="2.6" fill="#fff" stroke="#222" stroke-width="0.6"/>
<rect x="288.55" y="646.50" width="11.80" height="10.40" rx="2.6" fill="#fff" stroke="#222" stroke-width="0.6"/>
<text x="298.10" y="536.8" font-size="8.9" text-anchor="middle" fill="#111" stroke-width="0.3">12</text>
<text x="295.10" y="665.8" font-size="8.9" text-anchor="middle" fill="#111" stroke-width="0.3">12</text>
<rect x="310.85" y="538.30" width="15.30" height="10.10" rx="2.6" fill="#fff" stroke="#222" stroke-width="0.6"/>
<rect x="307.85" y="646.50" width="13.80" height="10.40" rx="2.6" fill="#fff" stroke="#222" stroke-width="0.6"/>
<text x="319.50" y="536.8" font-size="8.9" text-anchor="middle" fill="#111" stroke-width="0.3">13</text>
<text x="315.20" y="665.8" font-size="8.9" text-anchor="middle" fill="#111" stroke-width="0.3">13</text>
<rect x="333.45" y="538.30" width="14.00" height="10.10" rx="2.6" fill="#fff" stroke="#222" stroke-width="0.6"/>
<rect x="329.15" y="646.50" width="12.10" height="10.40" rx="2.6" fill="#fff" stroke="#222" stroke-width="0.6"/>
<text x="341.60" y="536.8" font-size="8.9" text-anchor="middle" fill="#111" stroke-width="0.3">14</text>
<text x="335.80" y="665.8" font-size="8.9" text-anchor="middle" fill="#111" stroke-width="0.3">14</text>
<rect x="355.55" y="538.30" width="13.80" height="10.10" rx="2.6" fill="#fff" stroke="#222" stroke-width="0.6"/>
<rect x="348.75" y="646.50" width="13.80" height="10.40" rx="2.6" fill="#fff" stroke="#222" stroke-width="0.6"/>
<text x="363.60" y="536.8" font-size="8.9" text-anchor="middle" fill="#111" stroke-width="0.3">15</text>
<text x="356.10" y="665.8" font-size="8.9" text-anchor="middle" fill="#111" stroke-width="0.3">15</text>
<rect x="376.85" y="538.30" width="11.30" height="10.10" rx="2.6" fill="#fff" stroke="#222" stroke-width="0.6"/>
<rect x="369.85" y="646.50" width="13.30" height="10.40" rx="2.6" fill="#fff" stroke="#222" stroke-width="0.6"/>
<text x="383.50" y="536.8" font-size="8.9" text-anchor="middle" fill="#111" stroke-width="0.3">16</text>
<text x="377.20" y="665.8" font-size="8.9" text-anchor="middle" fill="#111" stroke-width="0.3">16</text>
<rect x="395.15" y="538.30" width="13.80" height="10.10" rx="2.6" fill="#fff" stroke="#222" stroke-width="0.6"/>
<rect x="390.65" y="646.50" width="13.30" height="10.40" rx="2.6" fill="#fff" stroke="#222" stroke-width="0.6"/>
<text x="403.00" y="536.8" font-size="8.9" text-anchor="middle" fill="#111" stroke-width="0.3">17</text>
<text x="398.00" y="665.8" font-size="8.9" text-anchor="middle" fill="#111" stroke-width="0.3">17</text>
<rect x="416.35" y="538.30" width="14.10" height="10.10" rx="2.6" fill="#fff" stroke="#222" stroke-width="0.6"/>
<rect x="411.65" y="646.50" width="12.40" height="10.40" rx="2.6" fill="#fff" stroke="#222" stroke-width="0.6"/>
<text x="425.30" y="536.8" font-size="8.9" text-anchor="middle" fill="#111" stroke-width="0.3">18</text>
<text x="418.40" y="665.8" font-size="8.9" text-anchor="middle" fill="#111" stroke-width="0.3">18</text>
<rect x="438.65" y="538.30" width="11.10" height="10.10" rx="2.6" fill="#fff" stroke="#222" stroke-width="0.6"/>
<rect x="432.25" y="646.50" width="13.90" height="10.40" rx="2.6" fill="#fff" stroke="#222" stroke-width="0.6"/>
<text x="444.60" y="536.8" font-size="8.9" text-anchor="middle" fill="#111" stroke-width="0.3">19</text>
<text x="439.60" y="665.8" font-size="8.9" text-anchor="middle" fill="#111" stroke-width="0.3">19</text>
<rect x="457.65" y="538.30" width="13.30" height="10.10" rx="2.6" fill="#fff" stroke="#222" stroke-width="0.6"/>
<rect x="453.75" y="646.50" width="13.30" height="10.40" rx="2.6" fill="#fff" stroke="#222" stroke-width="0.6"/>
<text x="464.70" y="536.8" font-size="8.9" text-anchor="middle" fill="#111" stroke-width="0.3">20</text>
<text x="461.10" y="665.8" font-size="8.9" text-anchor="middle" fill="#111" stroke-width="0.3">20</text>
<rect x="478.65" y="538.30" width="11.00" height="10.10" rx="2.6" fill="#fff" stroke="#222" stroke-width="0.6"/>
<rect x="475.55" y="646.50" width="8.10" height="10.40" rx="2.6" fill="#fff" stroke="#222" stroke-width="0.6"/>
<text x="484.50" y="536.8" font-size="8.9" text-anchor="middle" fill="#111" stroke-width="0.3">21</text>
<text x="480.40" y="665.8" font-size="8.9" text-anchor="middle" fill="#111" stroke-width="0.3">21</text>
<rect x="497.65" y="538.30" width="10.50" height="10.10" rx="2.6" fill="#fff" stroke="#222" stroke-width="0.6"/>
<rect x="491.55" y="646.50" width="16.60" height="10.40" rx="2.6" fill="#fff" stroke="#222" stroke-width="0.6"/>
<text x="503.30" y="536.8" font-size="8.9" text-anchor="middle" fill="#111" stroke-width="0.3">22</text>
<text x="500.50" y="665.8" font-size="8.9" text-anchor="middle" fill="#111" stroke-width="0.3">22</text>
<rect x="515.55" y="538.30" width="12.70" height="10.10" rx="2.6" fill="#fff" stroke="#222" stroke-width="0.6"/>
<rect x="515.85" y="646.50" width="12.40" height="10.40" rx="2.6" fill="#fff" stroke="#222" stroke-width="0.6"/>
<text x="522.30" y="536.8" font-size="8.9" text-anchor="middle" fill="#111" stroke-width="0.3">23</text>
<text x="522.30" y="665.8" font-size="8.9" text-anchor="middle" fill="#111" stroke-width="0.3">23</text>
<rect x="535.65" y="538.30" width="12.70" height="10.10" rx="2.6" fill="#fff" stroke="#222" stroke-width="0.6"/>
<rect x="535.65" y="646.50" width="11.10" height="10.40" rx="2.6" fill="#fff" stroke="#222" stroke-width="0.6"/>
<text x="541.90" y="536.8" font-size="8.9" text-anchor="middle" fill="#111" stroke-width="0.3">24</text>
<text x="541.60" y="665.8" font-size="8.9" text-anchor="middle" fill="#111" stroke-width="0.3">24</text>
<rect x="555.55" y="538.30" width="9.40" height="10.10" rx="2.6" fill="#fff" stroke="#222" stroke-width="0.6"/>
<rect x="554.45" y="646.50" width="10.20" height="10.40" rx="2.6" fill="#fff" stroke="#222" stroke-width="0.6"/>
<text x="560.90" y="536.8" font-size="8.9" text-anchor="middle" fill="#111" stroke-width="0.3">25</text>
<text x="559.50" y="665.8" font-size="8.9" text-anchor="middle" fill="#111" stroke-width="0.3">25</text>
</g>
<text x="-0.5" y="529" font-size="30.5" fill="#111">D</text>
<text x="314.6" y="519.6" font-size="13.4" text-anchor="middle" fill="#111">A subgenome</text>
<text x="314.8" y="682.2" font-size="13.4" text-anchor="middle" fill="#111">B subgenome</text>
</svg>
</body></html>
